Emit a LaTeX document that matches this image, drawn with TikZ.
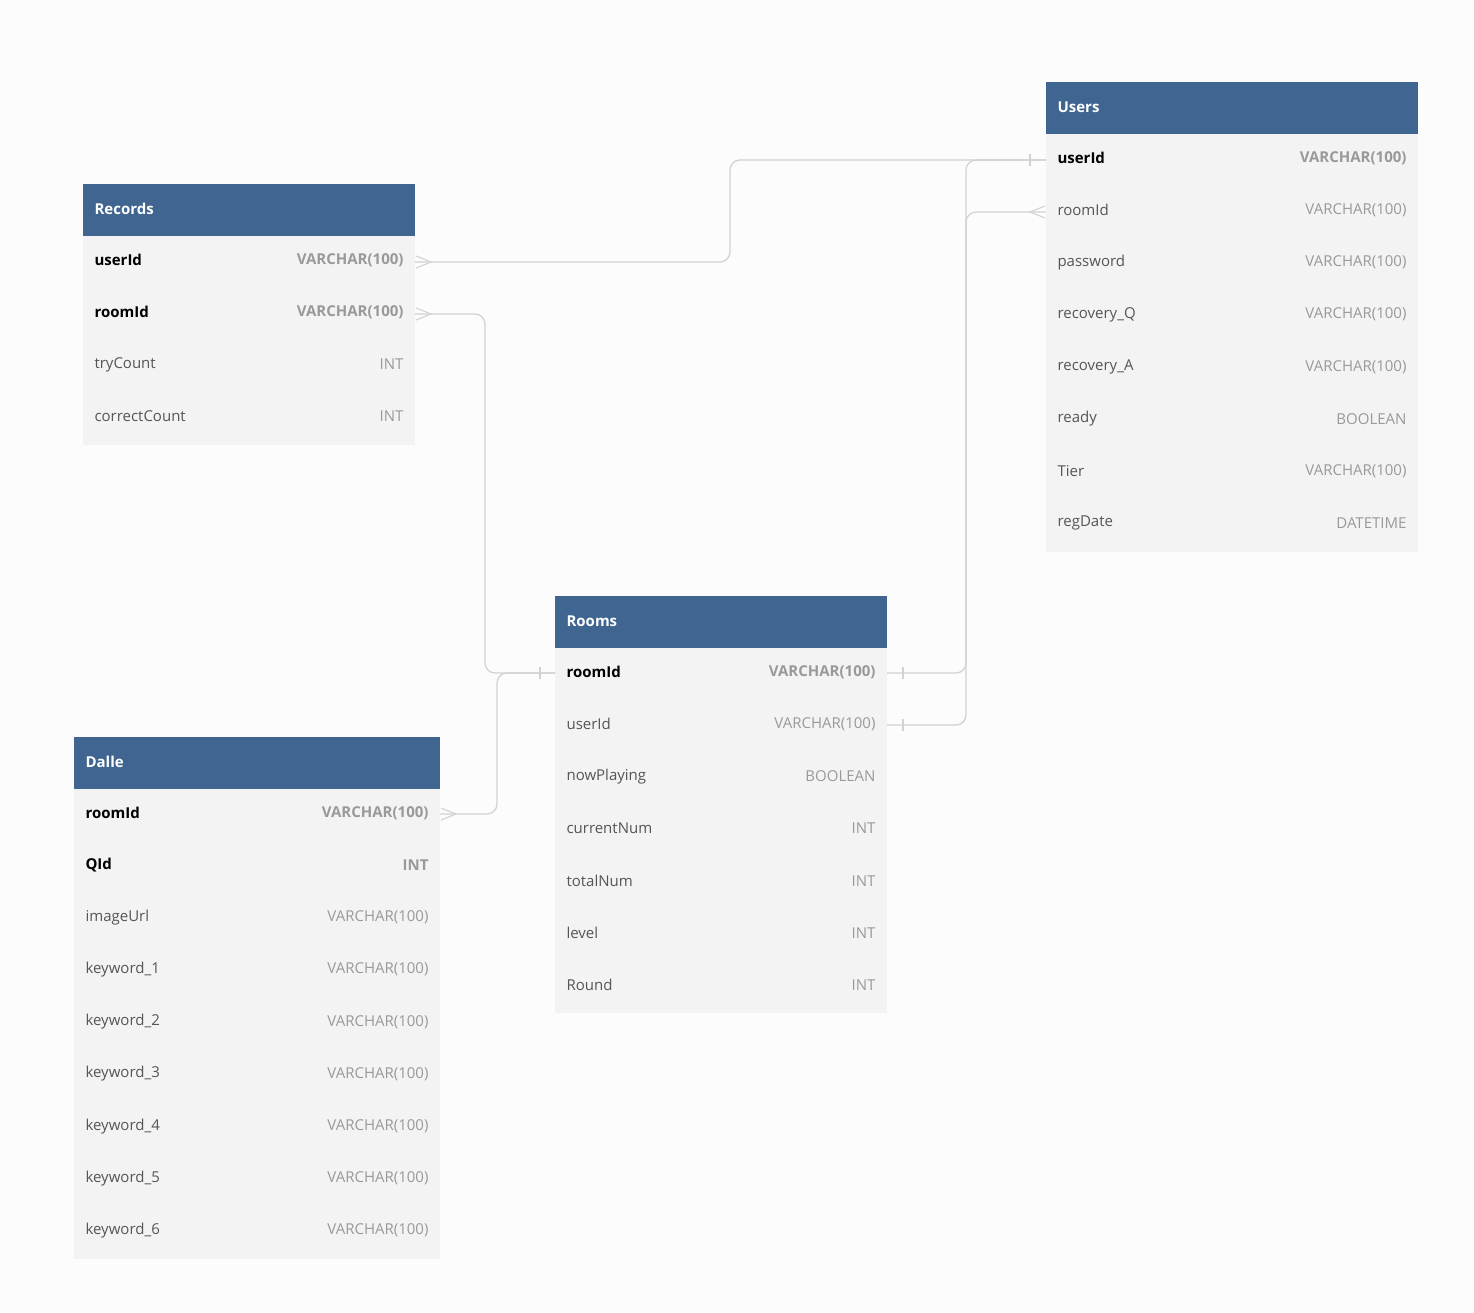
\documentclass[tikz,border=0pt]{standalone}
\usepackage{fontspec}
\setmainfont{Open Sans}
\begin{document}
\begin{tikzpicture}[x=1pt,y=-1pt,
  ttl/.style={anchor=west,text=white,font=\fontsize{15}{18}\selectfont\bfseries},
  fname/.style={anchor=west,text=txtc,font=\fontsize{15}{18}\selectfont},
  kname/.style={anchor=west,text=black,font=\fontsize{15}{18}\selectfont\bfseries},
  ftype/.style={anchor=east,text=typc,font=\fontsize{15}{18}\selectfont},
  ktype/.style={anchor=east,text=typc,font=\fontsize{15}{18}\selectfont\bfseries},
  conn/.style={draw=linec,line width=1.3pt,rounded corners=10pt},
  crowmark/.style={draw=linec,line width=1.1pt}]
\definecolor{hdrc}{HTML}{3F6590}
\definecolor{rowc}{HTML}{F3F3F3}
\definecolor{bgc}{HTML}{FCFCFC}
\definecolor{txtc}{HTML}{555555}
\definecolor{typc}{HTML}{999999}
\definecolor{linec}{HTML}{D2D2D2}
\fill[bgc] (0,0) rectangle (1474,1312);
\useasboundingbox (0,0) rectangle (1474,1312);
\newcommand{\tbl}[6]{%
  \fill[hdrc] (#1,#3) rectangle (#2,#3+52);
  \fill[rowc] (#1,#3+52) rectangle (#2,#3+52+#4*52.2);
  \node[ttl] (#6) at (#1+8,#3+25) {#5};}
\tbl{1046}{1418}{82}{8}{Users}{users}
\tbl{83}{415}{184}{4}{Records}{records}
\tbl{555}{887}{596}{7}{Rooms}{rooms}
\tbl{74}{440}{737}{9}{Dalle}{dalle}
\foreach \n/\t/\k [count=\i from 0] in {userId/VARCHAR(100)/1,roomId/VARCHAR(100)/0,password/VARCHAR(100)/0,recovery\_Q/VARCHAR(100)/0,recovery\_A/VARCHAR(100)/0,ready/BOOLEAN/0,Tier/VARCHAR(100)/0,regDate/DATETIME/0}{
  \ifnum\k=1
   \node[kname] (u\i) at (1054,158+\i*52.2) {\n};\node[ktype] (ut\i) at (1410,158+\i*52.2) {\t};
  \else
   \node[fname] (u\i) at (1054,158+\i*52.2) {\n};\node[ftype] (ut\i) at (1410,158+\i*52.2) {\t};
  \fi}
\foreach \n/\t/\k [count=\i from 0] in {userId/VARCHAR(100)/1,roomId/VARCHAR(100)/1,tryCount/INT/0,correctCount/INT/0}{
  \ifnum\k=1
   \node[kname] (r\i) at (91,260+\i*52.2) {\n};\node[ktype] (rt\i) at (407,260+\i*52.2) {\t};
  \else
   \node[fname] (r\i) at (91,260+\i*52.2) {\n};\node[ftype] (rt\i) at (407,260+\i*52.2) {\t};
  \fi}
\foreach \n/\t/\k [count=\i from 0] in {roomId/VARCHAR(100)/1,userId/VARCHAR(100)/0,nowPlaying/BOOLEAN/0,currentNum/INT/0,totalNum/INT/0,level/INT/0,Round/INT/0}{
  \ifnum\k=1
   \node[kname] (m\i) at (563,672+\i*52.2) {\n};\node[ktype] (mt\i) at (879,672+\i*52.2) {\t};
  \else
   \node[fname] (m\i) at (563,672+\i*52.2) {\n};\node[ftype] (mt\i) at (879,672+\i*52.2) {\t};
  \fi}
\foreach \n/\t/\k [count=\i from 0] in {roomId/VARCHAR(100)/1,QId/INT/1,imageUrl/VARCHAR(100)/0,keyword\_1/VARCHAR(100)/0,keyword\_2/VARCHAR(100)/0,keyword\_3/VARCHAR(100)/0,keyword\_4/VARCHAR(100)/0,keyword\_5/VARCHAR(100)/0,keyword\_6/VARCHAR(100)/0}{
  \ifnum\k=1
   \node[kname] (d\i) at (82,813+\i*52.2) {\n};\node[ktype] (dt\i) at (432,813+\i*52.2) {\t};
  \else
   \node[fname] (d\i) at (82,813+\i*52.2) {\n};\node[ftype] (dt\i) at (432,813+\i*52.2) {\t};
  \fi}
\coordinate (ruL) at (415,262); \coordinate (rrL) at (415,314);
\coordinate (uuL) at (1046,160); \coordinate (urL) at (1046,212);
\coordinate (mrL) at (555,673); \coordinate (mrR) at (887,673);
\coordinate (muR) at (887,725); \coordinate (drR) at (440,814);
\draw[conn] (ruL) -- (730,262) -- (730,160) -- (uuL);
\draw[conn] (rrL) -- (485,314) -- (485,673) -- (mrL);
\draw[conn] (drR) -- (497,814) -- (497,673) -- (mrL);
\draw[conn] (mrR) -- (966,673) -- (966,160) -- (uuL);
\draw[conn] (muR) -- (966,725) -- (966,212) -- (urL);
\foreach \y in {262,314}{\draw[crowmark] (416,\y-6) -- (431,\y) -- (416,\y+6);}
\draw[crowmark] (441,808) -- (456,814) -- (441,820);
\draw[crowmark] (1045,206) -- (1030,212) -- (1045,218);
\draw[crowmark] (1030,154) -- (1030,166);
\draw[crowmark] (540,667) -- (540,679);
\draw[crowmark] (903,667) -- (903,679);
\draw[crowmark] (903,719) -- (903,731);
\end{tikzpicture}
\end{document}
